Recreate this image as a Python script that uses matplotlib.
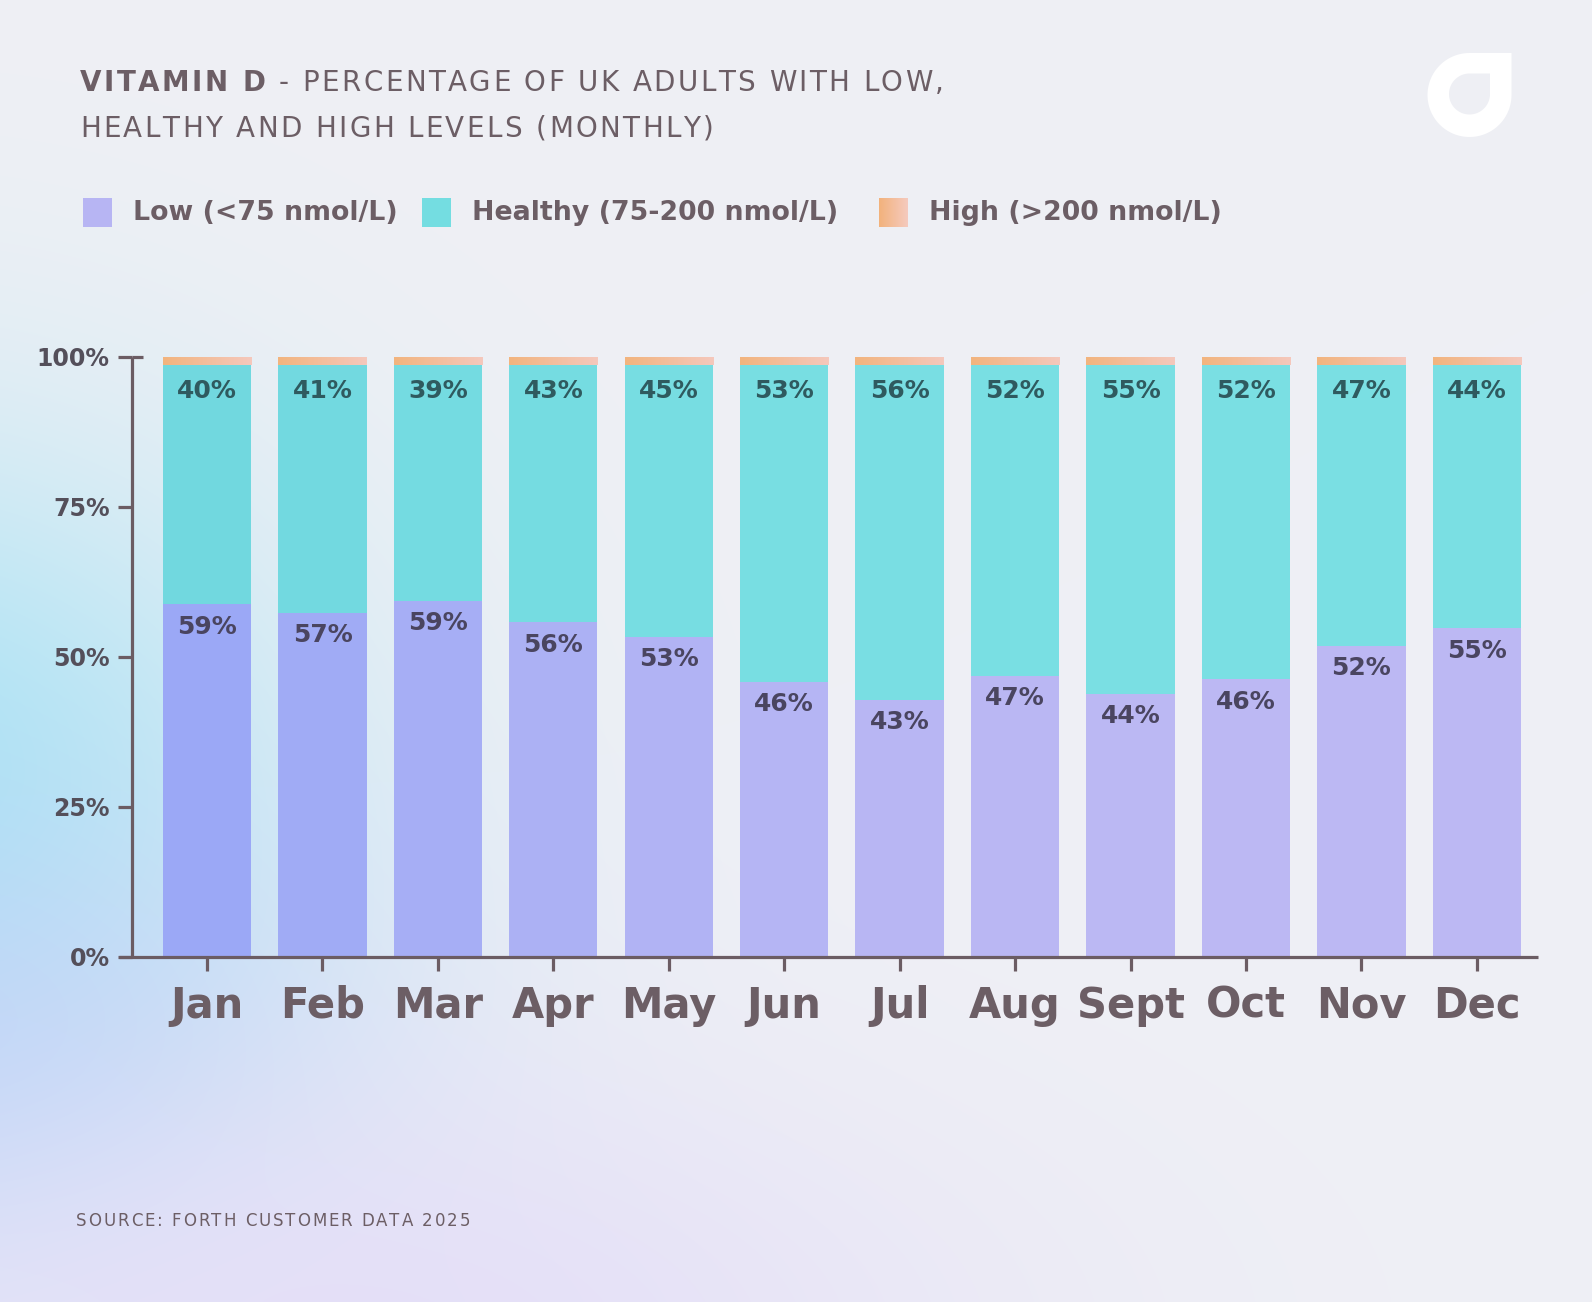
import numpy as np
import matplotlib
matplotlib.use("Agg")
import matplotlib.pyplot as plt
from matplotlib import font_manager as fm
from matplotlib.ft2font import FT2Font
from matplotlib.patches import Rectangle, PathPatch
from matplotlib.path import Path

# values (percent of adults)
months = ["Jan", "Feb", "Mar", "Apr", "May", "Jun", "Jul", "Aug", "Sept", "Oct", "Nov", "Dec"]
low = [59, 57, 59, 56, 53, 46, 43, 47, 44, 46, 52, 55]
healthy = [40, 41, 39, 43, 45, 53, 56, 52, 55, 52, 47, 44]
high = [1.4, 1.4, 1.4, 1.4, 1.4, 1.4, 1.4, 1.4, 1.4, 1.4, 1.4, 1.4]
yticks = [0, 25, 50, 75, 100]
legend_labels = ["Low (<75 nmol/L)", "Healthy (75-200 nmol/L)", "High (>200 nmol/L)"]

W, H = 1592, 1302
TEXT = "#6c5e65"
AXIS = "#6b5c63"
LOW_LAV = np.array([188, 184, 243]) / 255
LOW_BLUE = np.array([150, 166, 246]) / 255
HEA_LIGHT = np.array([122, 223, 227]) / 255
HEA_DEEP = np.array([104, 210, 220]) / 255


def blob(xx, yy, cx, cy, sx, sy):
    return np.exp(-(((xx - cx) / sx) ** 2 + ((yy - cy) / sy) ** 2) / 2)


def background():
    yy, xx = np.mgrid[0:H, 0:W].astype(float)
    img = np.ones((H, W, 3)) * np.array([239, 240, 245]) / 255
    layers = [
        ((172, 228, 244), blob(xx, yy, -120, 790, 300, 250), 1.0),
        ((186, 208, 248), blob(xx, yy, -40, 1050, 280, 170), 0.7),
        ((228, 222, 248), blob(xx, yy, 380, 1340, 430, 190), 0.9),
    ]
    for col, w, amp in layers:
        w = (w * amp)[..., None]
        img = img * (1 - w) + np.array(col) / 255 * w
    return np.clip(img, 0, 1)


def drop_path(cx, cy, r, reverse=False):
    # circle with a square top-right corner, pixel coords with y downwards
    th = np.radians(np.linspace(90, 360, 80))
    pts = list(zip(cx + r * np.cos(th), cy - r * np.sin(th)))
    pts.append((cx + r, cy - r))
    pts.append(pts[0])
    if reverse:
        pts = pts[::-1]
    return pts


def tracked(axis, x, y, s, size, track, weight="normal", **kw):
    # letter-spaced text, one glyph at a time
    fp = fm.FontProperties(family="DejaVu Sans", weight=weight)
    font = FT2Font(fm.findfont(fp))
    font.set_size(size, 100)
    for c in s:
        axis.text(x, y, c, fontsize=size, fontweight=weight, family="DejaVu Sans",
                  va="baseline", **kw)
        x += font.load_char(ord(c)).linearHoriAdvance / 65536 + track
    return x


fig = plt.figure(figsize=(W / 100, H / 100), dpi=100)
bg_img = background()

bg = fig.add_axes([0, 0, 1, 1], zorder=0)
bg.imshow(bg_img, extent=(0, W, H, 0), interpolation="bilinear")
bg.axis("off")

# logo
outer = drop_path(1469.5, 95, 42)
inner = drop_path(1469.5, 94, 20.5, reverse=True)
codes = ([Path.MOVETO] + [Path.LINETO] * (len(outer) - 2) + [Path.CLOSEPOLY]) * 2
bg.add_patch(PathPatch(Path(outer + inner, codes), facecolor="white", edgecolor="none"))

# title
xe = tracked(bg, 80, 91, "VITAMIN D", 20, 2.4, weight="bold", color=TEXT)
tracked(bg, xe, 91, " - PERCENTAGE OF UK ADULTS WITH LOW,", 20, 2.4, color=TEXT)
tracked(bg, 80, 137, "HEALTHY AND HIGH LEVELS (MONTHLY)", 20, 2.4, color=TEXT)

# legend
sq_x = [83, 422, 879]
for x0, lab, c in zip(sq_x, legend_labels, ["#b7b5f3", "#74dde1", None]):
    if c is None:
        grad = np.linspace(0, 1, 50)[None, :, None]
        g = (1 - grad) * np.array([242, 178, 124]) / 255 + grad * np.array([245, 202, 190]) / 255
        bg.imshow(g, extent=(x0, x0 + 29, 227, 198), interpolation="bilinear")
    else:
        bg.add_patch(Rectangle((x0, 198), 29, 29, facecolor=c, edgecolor="none"))
    bg.text(x0 + 50, 213, lab, fontsize=19.3, fontweight="bold", color=TEXT, va="center")

# source
tracked(bg, 76, 1226, "SOURCE: FORTH CUSTOMER DATA 2025", 12, 1.9, color=TEXT)
bg.set_xlim(0, W)
bg.set_ylim(H, 0)

# main chart
ax = fig.add_axes([132 / W, 1 - 957 / H, (1538 - 132) / W, 600 / H], zorder=1)
ax.set_facecolor("none")
ax.set_xlim(-0.65, 11.53)
ax.set_ylim(0, 100)
x = np.arange(len(months))
bw = 0.765

tot = np.array(low) + np.array(healthy) + np.array(high)
low_s = np.array(low) / tot * 100
hea_s = np.array(healthy) / tot * 100
high_s = np.array(high) / tot * 100


def glow(xi, yv):
    # how strongly the blue glow tints a segment
    px, py = ax.transData.transform((xi, yv))
    py = H - py
    return np.exp(-((px / 420) ** 2) / 2 - (((py - 850) / 350) ** 2) / 2)


low_cols = []
hea_cols = []
for i in x:
    w = glow(i, low_s[i] / 2)
    low_cols.append(LOW_LAV * (1 - w) + LOW_BLUE * w)
    w = glow(i, low_s[i] + hea_s[i] / 2)
    hea_cols.append(HEA_LIGHT * (1 - w) + HEA_DEEP * w)

ax.bar(x, low_s, width=bw, color=low_cols, zorder=2)
ax.bar(x, hea_s, width=bw, bottom=low_s, color=hea_cols, zorder=2)
hi_bars = ax.bar(x, high_s, width=bw, bottom=low_s + hea_s, color="#f3bf98", zorder=2)

# orange-to-pink fill for the thin top band
hgrad = np.linspace(0, 1, 60)[None, :, None]
hfill = (1 - hgrad) * np.array([242, 180, 126]) / 255 + hgrad * np.array([245, 200, 188]) / 255
for p in hi_bars:
    x0, y0 = p.get_x(), p.get_y()
    im = ax.imshow(hfill, extent=(x0, x0 + p.get_width(), y0, y0 + p.get_height()),
                   aspect="auto", interpolation="bilinear", zorder=2.1)
    im.set_clip_path(p)
ax.set_xlim(-0.65, 11.53)
ax.set_ylim(0, 100)

for i in x:
    ax.text(i, low_s[i] + hea_s[i] - 4.3, f"{healthy[i]}%", ha="center", va="center",
            fontsize=18, fontweight="bold", color="#2f5a5f", zorder=3)
    ax.text(i, low_s[i] - 3.7, f"{low[i]}%", ha="center", va="center",
            fontsize=18, fontweight="bold", color="#4a4560", zorder=3)

for s in ax.spines.values():
    s.set_visible(False)
lw = 2.3
ax.plot([0, 0], [0, 1], transform=ax.transAxes, color=AXIS, lw=lw, clip_on=False,
        solid_capstyle="butt", zorder=4)
ax.plot([-13 / 1406, 1], [0, 0], transform=ax.transAxes, color=AXIS, lw=lw,
        clip_on=False, solid_capstyle="butt", zorder=4)
ax.plot([0, 11 / 1406], [1, 1], transform=ax.transAxes, color=AXIS, lw=lw,
        clip_on=False, solid_capstyle="butt", zorder=4)

ax.set_yticks(yticks)
ax.set_yticklabels([f"{v}%" for v in yticks])
ax.set_xticks(x)
ax.set_xticklabels(months)
ax.tick_params(axis="y", length=10, width=lw, color=AXIS, pad=6, labelsize=17,
               labelcolor="#544f5a")
ax.tick_params(axis="x", length=10, width=lw, color=AXIS, pad=10, labelsize=30,
               labelcolor=TEXT)
for lab in ax.get_xticklabels() + ax.get_yticklabels():
    lab.set_fontweight("bold")

fig.savefig("out.png", dpi=100)
